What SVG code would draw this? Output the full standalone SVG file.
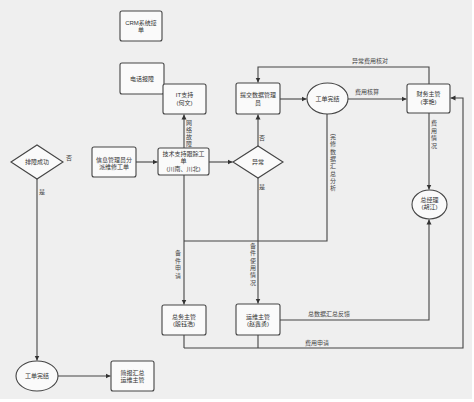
<svg xmlns="http://www.w3.org/2000/svg" width="474" height="402" viewBox="0 0 474 402">
<defs>
<marker id="ah" markerWidth="6" markerHeight="6" refX="5" refY="3" orient="auto" markerUnits="userSpaceOnUse">
<path d="M0,0.5 L5,3 L0,5.5 Z" fill="#333"/>
</marker>
<style>
.box{fill:#fafafa;stroke:#444;stroke-width:1.1}
.t{font-family:"Liberation Sans","Noto Sans CJK SC",sans-serif;font-size:6px;fill:#333;text-anchor:middle}
.l{font-family:"Liberation Sans","Noto Sans CJK SC",sans-serif;font-size:6px;fill:#444;text-anchor:middle}
.c{fill:none;stroke:#444;stroke-width:1.1}
.a{marker-end:url(#ah)}
</style>
</defs>
<rect x="0" y="0" width="474" height="402" fill="#ffffff"/>
<rect x="0" y="0" width="472" height="399" fill="#efefef"/>

<g id="connectors">
<path class="c a" d="M184,148 V114.5"/>
<path class="c a" d="M136,162 H157.5"/>
<path class="c a" d="M209,162 H232.5"/>
<path class="c a" d="M258,146 V114.5"/>
<path class="c a" d="M280,99 H306.5"/>
<path class="c a" d="M348,99 H406.5"/>
<path class="c a" d="M429,84 V67 H258 V82.5"/>
<path class="c a" d="M429,113 V189.5"/>
<path class="c" d="M327,114 V241 H184"/>
<path class="c a" d="M184,175 V304.5"/>
<path class="c a" d="M258,178 V303.5"/>
<path class="c a" d="M280,320 H429 V219.5"/>
<path class="c" d="M184,335 V348 M258,335 V348"/>
<path class="c a" d="M184,348 H463 V98 H450.5"/>
<path class="c a" d="M37,179 V360.5"/>
<path class="c a" d="M58,376 H110.5"/>
</g>

<g id="labels">
<text class="l" x="370" y="63">异常费用核对</text>
<text class="l" x="367" y="94">费用核算</text>
<text class="l" x="329" y="316">总数据汇总反馈</text>
<text class="l" x="317" y="345">费用申请</text>
<text class="l" x="262" y="140">否</text>
<text class="l" x="262" y="189">是</text>
<text class="l" x="69" y="160">否</text>
<text class="l" x="42" y="194">是</text>
<text class="l" x="189"><tspan x="189" y="125">网</tspan><tspan x="189" y="132">络</tspan><tspan x="189" y="139">故</tspan><tspan x="189" y="146">障</tspan></text>
<text class="l" x="333"><tspan x="333" y="139">完</tspan><tspan x="333" y="146.3">修</tspan><tspan x="333" y="153.6">数</tspan><tspan x="333" y="160.9">据</tspan><tspan x="333" y="168.2">汇</tspan><tspan x="333" y="175.5">总</tspan><tspan x="333" y="182.8">分</tspan><tspan x="333" y="190.1">析</tspan></text>
<text class="l" x="178"><tspan x="178" y="255">备</tspan><tspan x="178" y="262.5">件</tspan><tspan x="178" y="270">申</tspan><tspan x="178" y="277.5">请</tspan></text>
<text class="l" x="253"><tspan x="253" y="248">备</tspan><tspan x="253" y="255.3">件</tspan><tspan x="253" y="262.6">使</tspan><tspan x="253" y="269.9">用</tspan><tspan x="253" y="277.2">情</tspan><tspan x="253" y="284.5">况</tspan></text>
<text class="l" x="434"><tspan x="434" y="125">费</tspan><tspan x="434" y="132.5">用</tspan><tspan x="434" y="140">情</tspan><tspan x="434" y="147.5">况</tspan></text>
</g>

<g id="crm"><rect class="box" x="120" y="11" width="42" height="30" rx="2"/><text class="t" x="141" y="24.5">CRM系统接</text><text class="t" x="141" y="31.5">单</text></g>
<g id="phone"><rect class="box" x="120" y="63" width="44" height="31" rx="2"/><text class="t" x="142" y="80.5">电话报障</text></g>
<g id="it"><rect class="box" x="163" y="84" width="43" height="30" rx="2"/><text class="t" x="184.5" y="97">IT支持</text><text class="t" x="184.5" y="105">(何文)</text></g>
<g id="submit"><rect class="box" x="236" y="83" width="44" height="31" rx="2"/><text class="t" x="258" y="97">提交数据管理</text><text class="t" x="258" y="105">员</text></g>
<g id="done1"><ellipse class="box" cx="327.5" cy="98.5" rx="20.5" ry="15.5"/><text class="t" x="327.5" y="100.5">工单完结</text></g>
<g id="finance"><rect class="box" x="407" y="84" width="43" height="29" rx="2"/><text class="t" x="428.5" y="96">财务主管</text><text class="t" x="428.5" y="104">(李艳)</text></g>
<g id="tech"><rect class="box" x="158" y="148" width="51" height="27" rx="2"/><text class="t" x="183.5" y="156">技术支持跟踪工</text><text class="t" x="183.5" y="163">单</text><text class="t" x="183.5" y="171">(川南、川北)</text></g>
<g id="info"><rect class="box" x="92" y="147" width="44" height="30" rx="2"/><text class="t" x="114" y="161.5">信息管理员分</text><text class="t" x="114" y="168.5">派维修工单</text></g>
<g id="abnormal"><path class="box" d="M233,162 L258,146 L283,162 L258,178 Z"/><text class="t" x="258" y="164">异常</text></g>
<g id="success"><path class="box" d="M11,162 L37,145 L63,162 L37,179 Z"/><text class="t" x="37" y="164">排障成功</text></g>
<g id="done2"><ellipse class="box" cx="37" cy="376" rx="21" ry="15"/><text class="t" x="37" y="378">工单完结</text></g>
<g id="brief"><rect class="box" x="111" y="361" width="43" height="30" rx="2"/><text class="t" x="132.5" y="375">简报汇总</text><text class="t" x="132.5" y="382">运维主管</text></g>
<g id="general"><rect class="box" x="162" y="305" width="44" height="30" rx="2"/><text class="t" x="184" y="319">总务主管</text><text class="t" x="184" y="326">(殷钰浩)</text></g>
<g id="ops"><rect class="box" x="236" y="304" width="44" height="31" rx="2"/><text class="t" x="258" y="319">运维主管</text><text class="t" x="258" y="326">(赵鑫勇)</text></g>
<g id="gm"><ellipse class="box" cx="429.5" cy="204.5" rx="17.5" ry="14.5"/><text class="t" x="429.5" y="202">总经理</text><text class="t" x="429.5" y="209">(胡江)</text></g>
</svg>
